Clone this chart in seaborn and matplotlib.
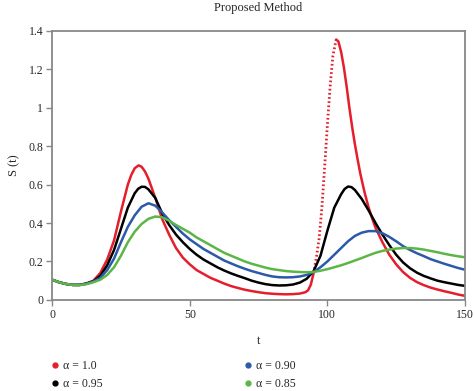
import numpy as np
import pandas as pd
import matplotlib
matplotlib.use("Agg")
import matplotlib.pyplot as plt
from matplotlib.lines import Line2D
import seaborn as sns

## Data
t_grid = np.arange(0, 150.1, 2.5)

t_red = [0, 2.5, 5, 7.5, 10, 12.5, 15, 17.5, 20, 22.5, 25, 27.5, 28.75, 30, 31.4, 32.5, 33.75, 35, 37.5, 40, 42.5, 45,
         47.5, 50, 52.5, 55, 57.5, 60, 62.5, 65, 67.5, 70, 72.5, 75, 77.5, 80, 82.5, 85, 87.5, 90, 92, 93,
         94, 95, 96, 97, 98, 99, 100, 101, 102, 103.2, 104, 105, 106, 107, 108, 109, 110, 111, 112, 113.5,
         115, 116.5, 117.5, 120, 122.5, 125, 127.5, 130, 132.5, 135, 137.5, 140, 142.5, 145, 147.5, 150]
s_a100 = [0.105, 0.092, 0.083, 0.078, 0.078, 0.086, 0.1, 0.14, 0.21, 0.31, 0.46, 0.6, 0.65, 0.685, 0.70, 0.693, 0.668, 0.63, 0.53, 0.42, 0.34, 0.27,
          0.22, 0.185, 0.155, 0.135, 0.115, 0.1, 0.085, 0.072, 0.062, 0.053, 0.046, 0.04, 0.035, 0.032, 0.03, 0.029, 0.03, 0.033, 0.04, 0.05,
          0.08, 0.14, 0.22, 0.32, 0.48, 0.69, 0.91, 1.11, 1.27, 1.355, 1.345, 1.29, 1.21, 1.11, 1.0, 0.9, 0.81, 0.73, 0.655, 0.56,
          0.48, 0.415, 0.375, 0.3, 0.235, 0.185, 0.145, 0.115, 0.093, 0.077, 0.064, 0.054, 0.045, 0.037, 0.028, 0.021]

t_black = [0, 2.5, 5, 7.5, 10, 12.5, 15, 17.5, 20, 22.5, 25, 27.5, 30, 31.25, 32.5, 33.75, 35, 37.5,
           40, 42.5, 45, 47.5, 50, 52.5, 55, 57.5, 60, 62.5, 65, 67.5, 70, 72.5, 75, 77.5,
           80, 82.5, 85, 87.5, 90, 92.5, 95, 97.5, 100, 102.5, 105, 106.25, 107.5, 108.75, 110, 112.5, 115, 117.5,
           120, 122.5, 125, 127.5, 130, 132.5, 135, 137.5, 140, 142.5, 145, 147.5, 150]
s_a095 = [0.105, 0.092, 0.083, 0.078, 0.078, 0.085, 0.097, 0.125, 0.18, 0.26, 0.37, 0.48, 0.555, 0.578, 0.589, 0.588, 0.575, 0.53,
          0.45, 0.39, 0.34, 0.3, 0.265, 0.235, 0.21, 0.19, 0.17, 0.153, 0.138, 0.125, 0.113, 0.1, 0.09, 0.082,
          0.077, 0.075, 0.076, 0.08, 0.09, 0.11, 0.15, 0.23, 0.36, 0.48, 0.55, 0.577, 0.59, 0.587, 0.572, 0.525, 0.465, 0.4,
          0.34, 0.285, 0.235, 0.195, 0.165, 0.142, 0.125, 0.112, 0.1, 0.092, 0.085, 0.078, 0.073]

s_a090 = [0.105, 0.092, 0.083, 0.078, 0.078, 0.084, 0.096, 0.115, 0.155, 0.215, 0.3, 0.38, 0.44, 0.485, 0.503, 0.49,
          0.455, 0.415, 0.38, 0.345, 0.315, 0.29, 0.265, 0.245, 0.225, 0.205, 0.19, 0.175, 0.162, 0.15, 0.14, 0.13,
          0.122, 0.118, 0.117, 0.118, 0.122, 0.13, 0.145, 0.17, 0.2, 0.235, 0.27, 0.305, 0.333, 0.35, 0.358, 0.358,
          0.347, 0.328, 0.305, 0.28, 0.26, 0.243, 0.228, 0.212, 0.2, 0.188, 0.177, 0.166, 0.157]

s_a085 = [0.105, 0.092, 0.083, 0.078, 0.077, 0.082, 0.092, 0.105, 0.13, 0.17, 0.23, 0.3, 0.355, 0.395, 0.422, 0.434,
          0.43, 0.412, 0.39, 0.37, 0.35, 0.325, 0.305, 0.285, 0.265, 0.245, 0.23, 0.215, 0.2, 0.188, 0.178, 0.168,
          0.16, 0.155, 0.15, 0.147, 0.145, 0.144, 0.145, 0.152, 0.16, 0.17, 0.18, 0.192, 0.205, 0.218, 0.232, 0.245,
          0.255, 0.262, 0.267, 0.27, 0.27, 0.267, 0.262, 0.255, 0.248, 0.24, 0.233, 0.227, 0.222]

labels = ["α = 1.0", "α = 0.95", "α = 0.90", "α = 0.85"]
colors = ["#e41e2b", "#000000", "#2b5aa8", "#5cb647"]

# red curve: the steep rise is drawn as dots in the reference
red = pd.DataFrame({"t": t_red, "S": s_a100})
rise = (red["t"] >= 95) & (red["t"] <= 103.2)

sns.set_theme(style="white")
plt.rcParams["font.family"] = ["Liberation Serif", "DejaVu Serif"]

fig = plt.figure(figsize=(4.74, 3.91), dpi=100)
ax = fig.add_axes([0.11, 0.233, 0.871, 0.688])

lw = 1.8
sns.lineplot(data=red[red["t"] <= 95], x="t", y="S", color=colors[0], lw=lw, ax=ax)
sns.lineplot(data=red[red["t"] >= 103.2], x="t", y="S", color=colors[0], lw=lw, ax=ax)
sns.lineplot(data=red[rise], x="t", y="S", color=colors[0], lw=2.0, ls=(0, (0.6, 0.9)), ax=ax)
sns.lineplot(x=t_black, y=s_a095, color=colors[1], lw=lw, ax=ax)
sns.lineplot(x=t_grid, y=s_a090, color=colors[2], lw=lw, ax=ax)
sns.lineplot(x=t_grid, y=s_a085, color=colors[3], lw=lw, ax=ax)

ax.set_xlim(0, 150)
ax.set_ylim(0, 1.4)
ax.set_xticks([0, 50, 100, 150])
ax.set_yticks([0, 0.2, 0.4, 0.6, 0.8, 1.0, 1.2, 1.4])
ax.set_yticklabels(["0", "0.2", "0.4", "0.6", "0.8", "1", "1.2", "1.4"])
ax.tick_params(axis="both", direction="out", length=4, width=1, color="#888888",
               labelsize=8.5, pad=2.5, left=True, bottom=True)
for sp in ax.spines.values():
    sp.set_color("#888888")
    sp.set_linewidth(1.3)

ax.set_xlabel("t", fontsize=9, labelpad=10)
ax.set_ylabel("S (t)", fontsize=9, labelpad=6)
ax.set_title("Proposed Method", fontsize=9, pad=14)

handles = [Line2D([], [], ls="", marker="o", ms=3.5, color=c) for c in colors]
fig.legend(handles, labels, loc="upper left", bbox_to_anchor=(0.086, 0.107), ncol=2,
           frameon=False, fontsize=8.5, handlelength=0.6, handletextpad=0.35,
           columnspacing=12.05, labelspacing=0.5)

fig.savefig("out.png", dpi=100)
